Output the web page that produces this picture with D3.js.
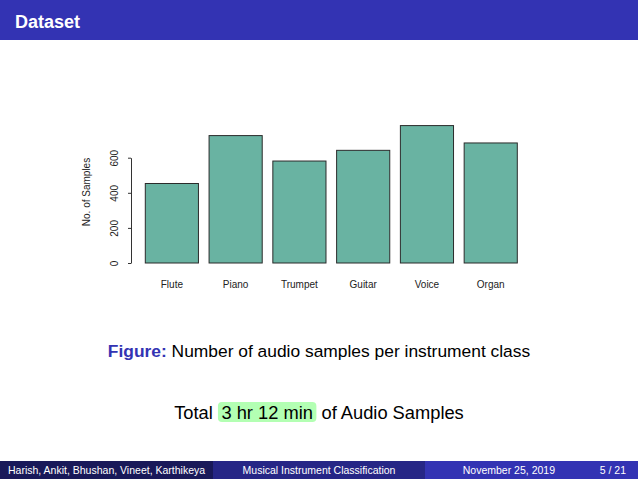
<!DOCTYPE html>
<html>
<head>
<meta charset="utf-8">
<script src="https://cdn.jsdelivr.net/npm/d3@7"></script>
<style>
  html, body { margin: 0; padding: 0; background: #fff; }
  svg { display: block; font-family: "Liberation Sans", Arial, Helvetica, sans-serif; }
</style>
</head>
<body>
<svg id="slide" width="638" height="479"></svg>
<script>
// chart data
const instruments = ['Flute', 'Piano', 'Trumpet', 'Guitar', 'Voice', 'Organ'];
const sampleCounts = [453, 726, 581, 642, 783, 684];
const yTicks = [0, 200, 400, 600];

// slide texts
const slideTitle = 'Dataset';
const footerAuthors = 'Harish, Ankit, Bhushan, Vineet, Karthikeya';
const footerTitle = 'Musical Instrument Classification';
const footerDate = 'November 25, 2019';
const footerPage = '5 / 21';

const svg = d3.select('#slide');

// header bar
svg.append('rect').attr('x', 0).attr('y', 0).attr('width', 638).attr('height', 40).attr('fill', '#3333b3');
svg.append('text').attr('x', 15).attr('y', 28)
    .attr('font-size', 18).attr('font-weight', 'bold').attr('fill', '#fff')
    .text(slideTitle);

// scales
const x = d3.scaleBand()
    .domain(instruments)
    .range([145.3, 517.3])
    .paddingInner(1 / 6)
    .paddingOuter(0);

const y = d3.scaleLinear()
    .domain([0, 600])
    .range([263, 157.7]);

// bars
svg.append('g')
    .selectAll('rect')
    .data(instruments)
    .enter().append('rect')
    .attr('x', d => x(d))
    .attr('y', (d, i) => y(sampleCounts[i]))
    .attr('width', x.bandwidth())
    .attr('height', (d, i) => y(0) - y(sampleCounts[i]))
    .attr('fill', '#69b3a2')
    .attr('stroke', '#2b2b2b')
    .attr('stroke-width', 1);

// category labels
svg.append('g')
    .selectAll('text')
    .data(instruments)
    .enter().append('text')
    .attr('x', d => x(d) + x.bandwidth() / 2)
    .attr('y', 288)
    .attr('text-anchor', 'middle')
    .attr('font-size', 10)
    .attr('fill', '#222')
    .text(d => d);

// y axis (R style, rotated tick labels)
const yAxis = svg.append('g')
    .attr('transform', 'translate(131,0)')
    .call(d3.axisLeft(y).tickValues(yTicks).tickSize(3).tickSizeOuter(0));
yAxis.select('.domain').attr('stroke', '#333');
yAxis.selectAll('.tick line').attr('stroke', '#333');
yAxis.selectAll('.tick text')
    .attr('font-size', 10)
    .attr('fill', '#222')
    .attr('x', null).attr('dy', null)
    .attr('text-anchor', 'middle')
    .attr('transform', 'translate(-16,0) rotate(-90)')
    .attr('dominant-baseline', 'middle');

svg.append('text')
    .attr('transform', 'translate(90,192) rotate(-90)')
    .attr('text-anchor', 'middle')
    .attr('font-size', 10)
    .attr('fill', '#222')
    .text('No. of Samples');

// caption
const caption = svg.append('text').attr('x', 319).attr('y', 357)
    .attr('text-anchor', 'middle').attr('font-size', 17.4).attr('fill', '#000');
caption.append('tspan').attr('fill', '#3333b3').attr('font-weight', 'bold').text('Figure:');
caption.append('tspan').text(' Number of audio samples per instrument class');

// total line: "Total [3 hr 12 min] of Audio Samples", laid out by measured widths
const totalParts = ['Total ', '3 hr 12 min', ' of Audio Samples'];
const pad = 3.5;
const totalG = svg.append('g').attr('font-size', 18.3).attr('fill', '#000');
const box = totalG.append('rect').attr('y', 402).attr('height', 20).attr('rx', 4).attr('fill', '#b3ffb3');
const parts = totalParts.map(t => totalG.append('text').attr('y', 419).attr('xml:space', 'preserve')
    .style('white-space', 'pre').text(t));
const widths = parts.map(p => p.node().getComputedTextLength());
let cx = 319 - (widths[0] + widths[1] + widths[2] + 2 * pad) / 2;
parts[0].attr('x', cx);
cx += widths[0];
box.attr('x', cx).attr('width', widths[1] + 2 * pad);
parts[1].attr('x', cx + pad);
cx += widths[1] + 2 * pad;
parts[2].attr('x', cx);

// footer
svg.append('rect').attr('x', 0).attr('y', 461).attr('width', 213).attr('height', 18).attr('fill', '#191959');
svg.append('rect').attr('x', 213).attr('y', 461).attr('width', 212).attr('height', 18).attr('fill', '#262686');
svg.append('rect').attr('x', 425).attr('y', 461).attr('width', 213).attr('height', 18).attr('fill', '#3333b3');

const footText = svg.append('g').attr('font-size', 10.5).attr('fill', '#fff');
footText.append('text').attr('x', 8).attr('y', 474).text(footerAuthors);
footText.append('text').attr('x', 319).attr('y', 474).attr('text-anchor', 'middle').text(footerTitle);
footText.append('text').attr('x', 555).attr('y', 474).attr('text-anchor', 'end').text(footerDate);
footText.append('text').attr('x', 626).attr('y', 474).attr('text-anchor', 'end').text(footerPage);
</script>
</body>
</html>
